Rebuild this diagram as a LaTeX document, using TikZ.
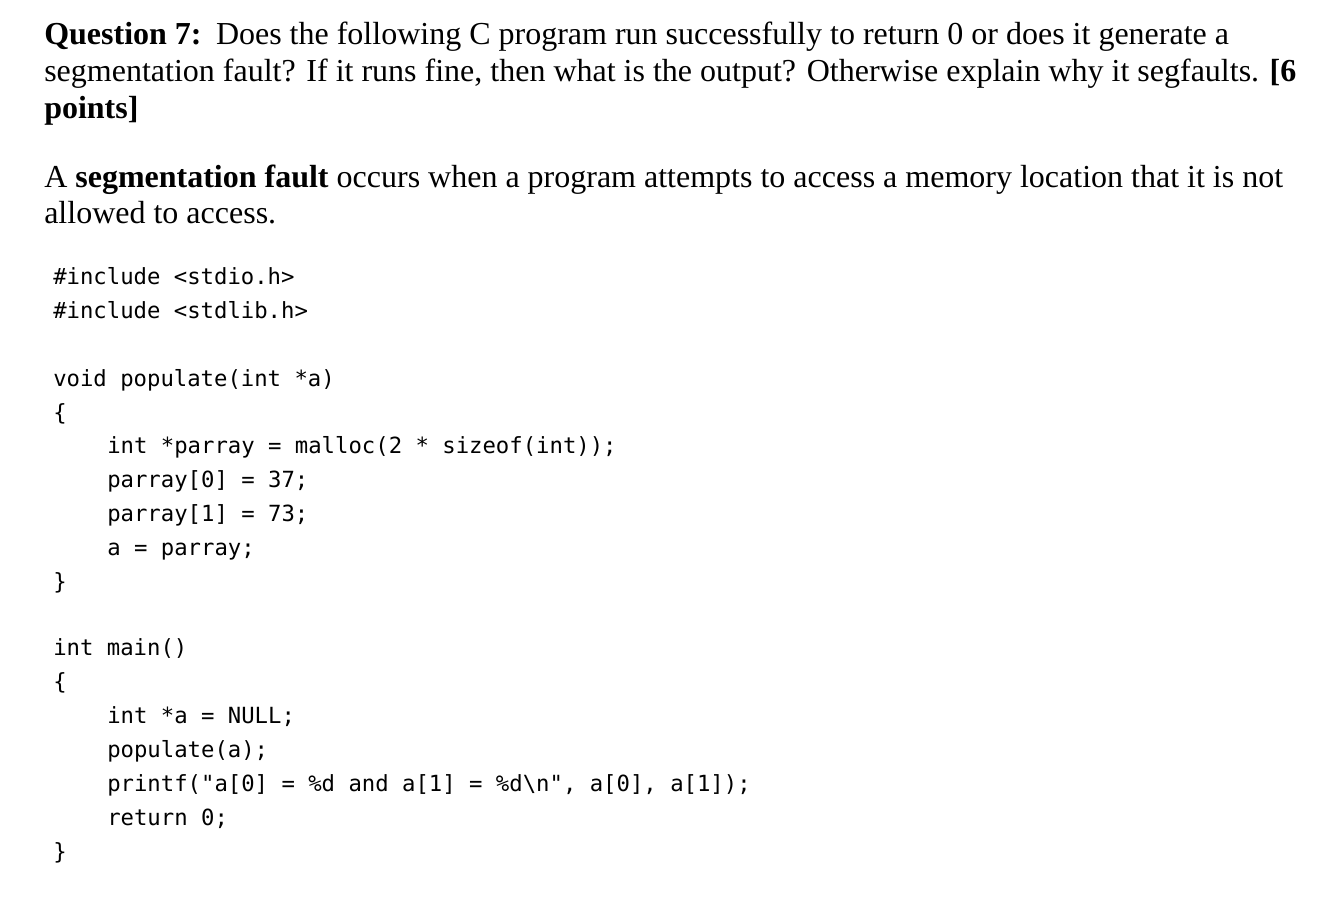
\documentclass[tikz,border=0pt]{standalone}
\usepackage{fontspec}
\setmainfont{Liberation Serif}
\setmonofont{DejaVu Sans Mono}
\usetikzlibrary{positioning}
\tikzset{
    Text/.style = {anchor=base west, inner sep=0pt, font=\fontsize{24}{28}\selectfont}
}
\tikzset{
    Code/.style = {anchor=base west, inner sep=0pt, font=\ttfamily\fontsize{16.7}{20}\selectfont}
}

\begin{document}
\begin{tikzpicture}[x=0.75pt, y=-0.75pt]
\useasboundingbox (0,0) rectangle (1332,924);
% question
\node[Text] at (44,45) (q1) {\textbf{Question 7:}\hspace{0.45em}Does the following C program run successfully to return 0 or does it generate a};
\node[Text] at (44,82) (q2) {segmentation fault? If it runs fine, then what is the output? Otherwise explain why it segfaults. \textbf{[6}};
\node[Text] at (44,118) (q3) {\textbf{points]}};
% definition
\node[Text] at (44,187) (d1) {A \textbf{segmentation fault} occurs when a program attempts to access a memory location that it is not};
\node[Text] at (44,223) (d2) {allowed to access.};
% program
\node[Code] at (53,284) (c1) {\#include <stdio.h>};
\node[Code] at (53,318) (c2) {\#include <stdlib.h>};
\node[Code] at (53,386) (c3) {void populate(int *a)};
\node[Code] at (53,420) (c4) {\{};
\node[Code] at (107,453) (c5) {int *parray = malloc(2 * sizeof(int));};
\node[Code] at (107,487) (c6) {parray[0] = 37;};
\node[Code] at (107,521) (c7) {parray[1] = 73;};
\node[Code] at (107,555) (c8) {a = parray;};
\node[Code] at (53,589) (c9) {\}};
\node[Code] at (53,655) (c10) {int main()};
\node[Code] at (53,689) (c11) {\{};
\node[Code] at (107,723) (c12) {int *a = NULL;};
\node[Code] at (107,757) (c13) {populate(a);};
\node[Code] at (107,791) (c14) {printf("a[0] = \%d and a[1] = \%d\textbackslash n", a[0], a[1]);};
\node[Code] at (107,825) (c15) {return 0;};
\node[Code] at (53,859) (c16) {\}};
\end{tikzpicture}
\end{document}
